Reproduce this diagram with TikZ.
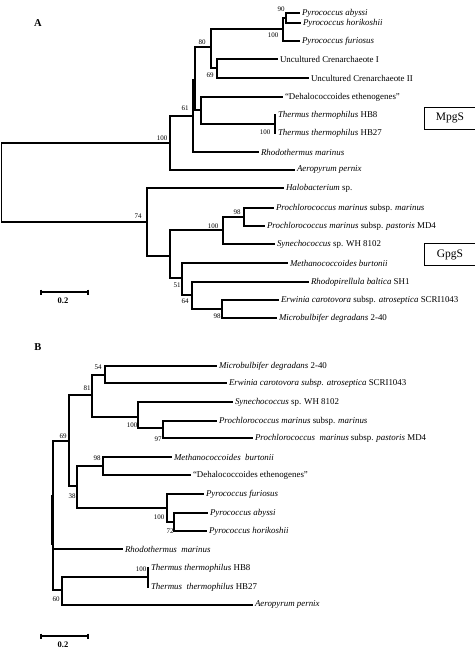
\documentclass[tikz,border=0pt]{standalone}
\usepackage{fontspec}
\setmainfont{Liberation Serif}
\usetikzlibrary{calc}
\begin{document}
\begin{tikzpicture}[x=1pt,y=-1pt,
  br/.style={line width=1.7pt},
  leaf/.style={anchor=west,inner sep=1.8pt,font=\fontsize{8.9}{10}\selectfont},
  bs/.style={inner sep=0.6pt,font=\fontsize{7}{8}\selectfont},
  panel/.style={font=\fontsize{10.5}{12}\selectfont\bfseries},
  enzyme/.style={draw,line width=0.6pt,minimum width=52pt,minimum height=22pt,font=\fontsize{11.5}{13}\selectfont}]
\useasboundingbox (0,0) rectangle (474,650);
% panel A
\node[panel] (pA) at (38,23) {A};
\node[leaf] (abyA) at (300,13) {\textit{Pyrococcus abyssi}};
\node[leaf] (horA) at (301,23) {\textit{Pyrococcus horikoshii}};
\node[leaf] (furA) at (300,41) {\textit{Pyrococcus furiosus}};
\node[leaf] (uncI) at (278,59) {Uncultured Crenarchaeote I};
\node[leaf] (uncII) at (309,78) {Uncultured Crenarchaeote II};
\node[leaf] (dehA) at (283,97) {``Dehalococcoides ethenogenes''};
\node[leaf] (hb8A) at (276,115) {\textit{Thermus thermophilus} HB8};
\node[leaf] (hb27A) at (276,133) {\textit{Thermus thermophilus} HB27};
\node[leaf] (rhoA) at (259,152) {\textit{Rhodothermus marinus}};
\node[leaf] (aerA) at (295,170) {\textit{Aeropyrum pernix}};
\node[leaf] (halA) at (284,188) {\textit{Halobacterium} sp.};
\node[leaf] (pmaA) at (274,208) {\textit{Prochlorococcus marinus} subsp. \textit{marinus}};
\node[leaf] (ppaA) at (265,226) {\textit{Prochlorococcus marinus} subsp. \textit{pastoris} MD4};
\node[leaf] (synA) at (275,244) {\textit{Synechococcus} sp. WH 8102};
\node[leaf] (metA) at (288,263) {\textit{Methanococcoides burtonii}};
\node[leaf] (rbaA) at (309,282) {\textit{Rhodopirellula baltica} SH1};
\node[leaf] (erwA) at (279,300) {\textit{Erwinia carotovora} subsp. \textit{atroseptica} SCRI1043};
\node[leaf] (micA) at (277,318) {\textit{Microbulbifer degradans} 2-40};
\coordinate (a90) at (286,18);
\coordinate (a100p) at (283,29);
\coordinate (a69) at (217,68);
\coordinate (a80) at (211,47);
\coordinate (a100t) at (275,124);
\coordinate (aDT) at (201,110);
\coordinate (aX) at (195,80);
\coordinate (a61) at (193,116);
\coordinate (a100) at (170,143);
\coordinate (a98c) at (244,217);
\coordinate (a100c) at (223,230);
\coordinate (a98e) at (222,309);
\coordinate (a64) at (192,295);
\coordinate (a51) at (182,278);
\coordinate (aL) at (170,256);
\coordinate (a74) at (147,222);
\coordinate (rootA) at (1.5,182);
\draw[br] (a90) |- (abyA.west);
\draw[br] (a90) |- (horA.west);
\draw[br] (a100p) |- (a90);
\draw[br] (a100p) |- (furA.west);
\draw[br] (a69) |- (uncI.west);
\draw[br] (a69) |- (uncII.west);
\draw[br] (a80) |- (a100p);
\draw[br] (a80) |- (a69);
\draw[br] (a100t) |- (hb8A.west);
\draw[br] (a100t) |- (hb27A.west);
\draw[br] (aDT) |- (dehA.west);
\draw[br] (aDT) |- (a100t);
\draw[br] (aX) |- (a80);
\draw[br] (aX) |- (aDT);
\draw[br] (a61) |- (aX);
\draw[br] (a61) |- (rhoA.west);
\draw[br] (a100) |- (a61);
\draw[br] (a100) |- (aerA.west);
\draw[br] (a98c) |- (pmaA.west);
\draw[br] (a98c) |- (ppaA.west);
\draw[br] (a100c) |- (a98c);
\draw[br] (a100c) |- (synA.west);
\draw[br] (a98e) |- (erwA.west);
\draw[br] (a98e) |- (micA.west);
\draw[br] (a64) |- (rbaA.west);
\draw[br] (a64) |- (a98e);
\draw[br] (a51) |- (metA.west);
\draw[br] (a51) |- (a64);
\draw[br] (aL) |- (a100c);
\draw[br] (aL) |- (a51);
\draw[br] (a74) |- (halA.west);
\draw[br] (a74) |- (aL);
\draw[br] (rootA) |- (a100);
\draw[br] (rootA) |- (a74);
% bootstrap values A
\node[bs] at (281,9) {90};
\node[bs] at (273,35) {100};
\node[bs] at (202,42) {80};
\node[bs] at (210,75) {69};
\node[bs] at (185,108) {61};
\node[bs] at (265,132) {100};
\node[bs] at (162,138) {100};
\node[bs] at (138,216) {74};
\node[bs] at (237,212) {98};
\node[bs] at (213,226) {100};
\node[bs] at (177,285) {51};
\node[bs] at (185,301) {64};
\node[bs] at (217,316) {98};
\node[enzyme] (mpgs) at (450,118) {MpgS};
\node[enzyme] (gpgs) at (450,254.5) {GpgS};
% scale A
\coordinate (sA1) at (41,292);
\coordinate (sA2) at (88,292);
\draw[line width=1.1pt] (sA1) -- (sA2);
\draw[line width=1.1pt] ($(sA1)+(0,-2.5)$) -- ($(sA1)+(0,2.5)$);
\draw[line width=1.1pt] ($(sA2)+(0,-2.5)$) -- ($(sA2)+(0,2.5)$);
\node[bs,font=\fontsize{8.5}{10}\selectfont\bfseries] (sAl) at (63,301) {0.2};
% panel B
\node[panel] (pB) at (38,347) {B};
\node[leaf] (micB) at (217,366) {\textit{Microbulbifer degradans} 2-40};
\node[leaf] (erwB) at (227,383) {\textit{Erwinia carotovora subsp. atroseptica} SCRI1043};
\node[leaf] (synB) at (233,402) {\textit{Synechococcus} sp. WH 8102};
\node[leaf] (pmaB) at (217,421) {\textit{Prochlorococcus marinus} subsp. \textit{marinus}};
\node[leaf] (ppaB) at (253,438) {\textit{Prochlorococcus\ \ marinus} subsp. \textit{pastoris} MD4};
\node[leaf] (metB) at (172,457) {\textit{Methanococcoides\ \ burtonii}};
\node[leaf] (dehB) at (191,475) {``Dehalococcoides ethenogenes''};
\node[leaf] (furB) at (204,494) {\textit{Pyrococcus furiosus}};
\node[leaf] (abyB) at (208,513) {\textit{Pyrococcus abyssi}};
\node[leaf] (horB) at (207,531) {\textit{Pyrococcus horikoshii}};
\node[leaf] (rhoB) at (123,549) {\textit{Rhodothermus\ \ marinus}};
\node[leaf] (hb8B) at (149,568) {\textit{Thermus thermophilus} HB8};
\node[leaf] (hb27B) at (149,587) {\textit{Thermus\ \ thermophilus} HB27};
\node[leaf] (aerB) at (253,605) {\textit{Aeropyrum pernix}};
\coordinate (b54) at (105,375);
\coordinate (b97) at (163,428);
\coordinate (b100s) at (138,417);
\coordinate (b81) at (92,395);
\coordinate (b98) at (103,466);
\coordinate (b72) at (174,522);
\coordinate (b100p) at (167,508);
\coordinate (b38) at (77,486);
\coordinate (b69) at (69,441);
\coordinate (b100t) at (148,577);
\coordinate (b60) at (62,590);
\coordinate (rootB) at (53,549);
\draw[br] (b54) |- (micB.west);
\draw[br] (b54) |- (erwB.west);
\draw[br] (b97) |- (pmaB.west);
\draw[br] (b97) |- (ppaB.west);
\draw[br] (b100s) |- (synB.west);
\draw[br] (b100s) |- (b97);
\draw[br] (b81) |- (b54);
\draw[br] (b81) |- (b100s);
\draw[br] (b98) |- (metB.west);
\draw[br] (b98) |- (dehB.west);
\draw[br] (b72) |- (abyB.west);
\draw[br] (b72) |- (horB.west);
\draw[br] (b100p) |- (furB.west);
\draw[br] (b100p) |- (b72);
\draw[br] (b38) |- (b98);
\draw[br] (b38) |- (b100p);
\draw[br] (b69) |- (b81);
\draw[br] (b69) |- (b38);
\draw[br] (b100t) |- (hb8B.west);
\draw[br] (b100t) |- (hb27B.west);
\draw[br] (b60) |- (b100t);
\draw[br] (b60) |- (aerB.west);
\draw[br] (rootB) |- (b69);
\draw[br] (rootB) -- (rhoB.west);
\draw[br] (rootB) |- (b60);
\draw[line width=2.4pt] ($(rootB)+(-1.2,-54)$) -- ($(rootB)+(-1.2,-4)$);
% bootstrap values B
\node[bs] at (98,367) {54};
\node[bs] at (87,388) {81};
\node[bs] at (132,425) {100};
\node[bs] at (158,439) {97};
\node[bs] at (63,436) {69};
\node[bs] at (97,458) {98};
\node[bs] at (72,496) {38};
\node[bs] at (159,517) {100};
\node[bs] at (170,531) {72};
\node[bs] at (141,569) {100};
\node[bs] at (56,599) {60};
% scale B
\coordinate (sB1) at (41,636);
\coordinate (sB2) at (88,636);
\draw[line width=1.1pt] (sB1) -- (sB2);
\draw[line width=1.1pt] ($(sB1)+(0,-2.5)$) -- ($(sB1)+(0,2.5)$);
\draw[line width=1.1pt] ($(sB2)+(0,-2.5)$) -- ($(sB2)+(0,2.5)$);
\node[bs,font=\fontsize{8.5}{10}\selectfont\bfseries] (sBl) at (63,645) {0.2};
\end{tikzpicture}
\end{document}
